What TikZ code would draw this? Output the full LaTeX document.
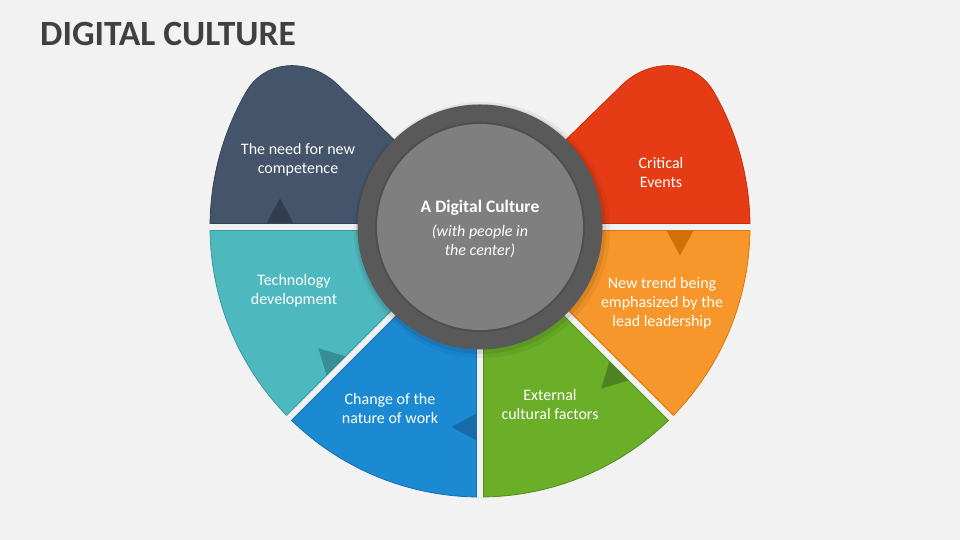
\documentclass[tikz,border=0pt]{standalone}
\usepackage{fontspec}
\setmainfont{Carlito}
\usetikzlibrary{calc,positioning}

\definecolor{bgcol}{HTML}{F2F2F2}
\definecolor{titlecol}{HTML}{404040}
\definecolor{slatecol}{HTML}{44546A}
\definecolor{slateline}{HTML}{37455A}
\definecolor{slatetri}{HTML}{323E4F}
\definecolor{tealcol}{HTML}{4EB8BF}
\definecolor{tealline}{HTML}{3A9AA0}
\definecolor{tealtri}{HTML}{378F95}
\definecolor{bluecol}{HTML}{1B8AD3}
\definecolor{blueline}{HTML}{1570B0}
\definecolor{bluetri}{HTML}{166CA6}
\definecolor{greencol}{HTML}{6BAE28}
\definecolor{greenline}{HTML}{558C1F}
\definecolor{greentri}{HTML}{4F8322}
\definecolor{orangecol}{HTML}{F7962A}
\definecolor{orangeline}{HTML}{D9780E}
\definecolor{orangetri}{HTML}{CF7009}
\definecolor{redcol}{HTML}{E63C15}
\definecolor{redline}{HTML}{C2300E}
\definecolor{ringcol}{HTML}{595959}
\definecolor{corecol}{HTML}{7F7F7F}

\tikzset{
  segment/.style={line width=0.8pt},
  label/.style={text=white, align=center, font=\fontsize{16}{19}\selectfont},
}

\begin{document}
\begin{tikzpicture}[x=1pt,y=1pt]
    \fill[bgcol] (0,0) rectangle (960,540);
    \useasboundingbox (0,0) rectangle (960,540);
    \node[anchor=base west, text=titlecol, font=\fontsize{35.5}{40}\selectfont\bfseries, inner sep=0pt] (title) at (40,494) {DIGITAL CULTURE};

    \coordinate (C) at (480,313);
    \def\R{270}
    \def\g{3.5}

    % upper segments with round tips
    \filldraw[segment, fill=slatecol, draw=slateline] ($(C)+(90:\g)$) -- ($(C)+(179.26:\R)$) arc[start angle=179.26, end angle=149.85, radius=\R]
      .. controls ($(C)+(149.85:\R)+(59.85:38.7)$) and ($(C)+(135:238.7)$) .. ($(C)+(135:200)$) -- cycle;
    \filldraw[segment, fill=redcol, draw=redline] ($(C)+(90:\g)$) -- ($(C)+(0.74:\R)$) arc[start angle=0.74, end angle=30.15, radius=\R]
      .. controls ($(C)+(30.15:\R)+(120.15:38.7)$) and ($(C)+(45:238.7)$) .. ($(C)+(45:200)$) -- cycle;

    % lower segments
    \filldraw[segment, fill=tealcol, draw=tealline] ($(C)+(180:25)+(270:\g)$) -- ($(C)+(180.74:\R)$) arc[start angle=180.74, end angle=224.26, radius=\R] -- ($(C)+(225:25)+(135:\g)$) -- cycle;
    \filldraw[segment, fill=bluecol, draw=blueline] ($(C)+(225:25)+(315:\g)$) -- ($(C)+(225.74:\R)$) arc[start angle=225.74, end angle=269.26, radius=\R] -- ($(C)+(270:25)+(180:\g)$) -- cycle;
    \filldraw[segment, fill=greencol, draw=greenline] ($(C)+(270:25)+(0:\g)$) -- ($(C)+(270.74:\R)$) arc[start angle=270.74, end angle=314.26, radius=\R] -- ($(C)+(315:25)+(225:\g)$) -- cycle;
    \filldraw[segment, fill=orangecol, draw=orangeline] ($(C)+(315:25)+(45:\g)$) -- ($(C)+(315.74:\R)$) arc[start angle=315.74, end angle=359.26, radius=\R] -- ($(C)+(360:25)+(270:\g)$) -- cycle;

    % notches
    \fill[slatetri] ($(C)+(180:186.5)+(90:\g)$) -- ($(C)+(180:213.5)+(90:\g)$) -- ($(C)+(180:200)+(90:28.5)$) -- cycle;
    \fill[tealtri] ($(C)+(225:186.5)+(135:\g)$) -- ($(C)+(225:213.5)+(135:\g)$) -- ($(C)+(225:200)+(135:28.5)$) -- cycle;
    \fill[bluetri] ($(C)+(270:186.5)+(180:\g)$) -- ($(C)+(270:213.5)+(180:\g)$) -- ($(C)+(270:200)+(180:28.5)$) -- cycle;
    \fill[greentri] ($(C)+(315:186.5)+(225:\g)$) -- ($(C)+(315:213.5)+(225:\g)$) -- ($(C)+(315:200)+(225:28.5)$) -- cycle;
    \fill[orangetri] ($(C)+(360:186.5)+(270:\g)$) -- ($(C)+(360:213.5)+(270:\g)$) -- ($(C)+(360:200)+(270:28.5)$) -- cycle;

    % centre disc with soft shadow
    \fill[black, opacity=0.05] ($(C)+(2,-3)$) circle[radius=128];
    \fill[black, opacity=0.08] ($(C)+(1,-2)$) circle[radius=125];
    \fill[ringcol] (C) circle[radius=122.5];
    \fill[black, opacity=0.12] (C) circle[radius=105];
    \fill[corecol] (C) circle[radius=103];

    \node[label, font=\fontsize{17.5}{19}\selectfont\bfseries] (core) at (480,332) {A Digital Culture};
    \node[label, font=\fontsize{16}{19}\selectfont\itshape, below=2pt of core] (people) {(with people in\\the center)};

    \node[label] (need) at (298,380) {The need for new\\competence};
    \node[label] (events) at (661,367) {Critical\\Events};
    \node[label] (tech) at (294,249) {Technology\\development};
    \node[label] (work) at (390,131) {Change of the\\nature of work};
    \node[label] (external) at (550,135) {External\\cultural factors};
    \node[label] (trend) at (662,237) {New trend being\\emphasized by the\\lead leadership};
\end{tikzpicture}
\end{document}
